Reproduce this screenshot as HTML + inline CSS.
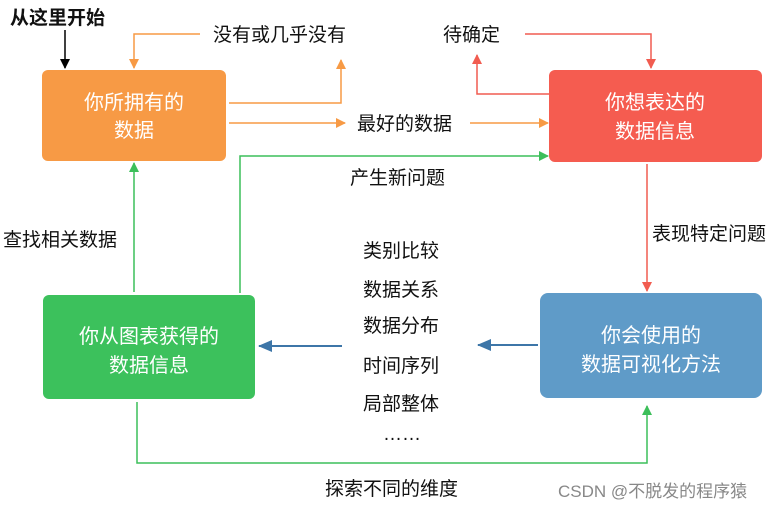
<!DOCTYPE html>
<html><head><meta charset="utf-8"><style>
body{margin:0;width:784px;height:509px;background:#fff;overflow:hidden;font-family:"Liberation Sans","Noto Sans CJK SC",sans-serif}
svg text{font-family:"Liberation Sans","Noto Sans CJK SC",sans-serif}
</style></head><body>
<svg width="784" height="509" viewBox="0 0 784 509" xmlns="http://www.w3.org/2000/svg">
<defs>
<marker id="ao" markerWidth="10" markerHeight="10" refX="9" refY="5" orient="auto" markerUnits="userSpaceOnUse"><path d="M0,0 L10,5 L0,10z" fill="#f79a45"/></marker>
<marker id="ar" markerWidth="10" markerHeight="10" refX="9" refY="5" orient="auto" markerUnits="userSpaceOnUse"><path d="M0,0 L10,5 L0,10z" fill="#f15c50"/></marker>
<marker id="ag" markerWidth="10" markerHeight="10" refX="9" refY="5" orient="auto" markerUnits="userSpaceOnUse"><path d="M0,0 L10,5 L0,10z" fill="#3cbf5a"/></marker>
<marker id="ab" markerWidth="14" markerHeight="12" refX="13" refY="6" orient="auto" markerUnits="userSpaceOnUse"><path d="M0,0 L14,6 L0,12z" fill="#3d76a8"/></marker>
<marker id="ak" markerWidth="10" markerHeight="12" refX="9" refY="5" orient="auto" markerUnits="userSpaceOnUse"><path d="M0,0 L10,5 L0,10z" fill="#000"/></marker>
</defs>
<g fill="none" stroke-width="1.5">
<path d="M65,30 V68" stroke="#000" marker-end="url(#ak)"/>
<path d="M200,34 H134 V68" stroke="#f79a45" marker-end="url(#ao)"/>
<path d="M229,103 H341 V60" stroke="#f79a45" marker-end="url(#ao)"/>
<path d="M229,123 H345" stroke="#f79a45" marker-end="url(#ao)"/>
<path d="M470,123 H548" stroke="#f79a45" marker-end="url(#ao)"/>
<path d="M549,94 H477 V55" stroke="#f15c50" marker-end="url(#ar)"/>
<path d="M525,34 H651 V68" stroke="#f15c50" marker-end="url(#ar)"/>
<path d="M647,164 V291" stroke="#f15c50" marker-end="url(#ar)"/>
<path d="M240,293 V156 H548" stroke="#3cbf5a" marker-end="url(#ag)"/>
<path d="M134,292 V163" stroke="#3cbf5a" marker-end="url(#ag)"/>
<path d="M137,402 V463 H647 V406" stroke="#3cbf5a" marker-end="url(#ag)"/>
<path d="M538,345 H478" stroke="#3d76a8" stroke-width="2" marker-end="url(#ab)"/>
<path d="M342,346 H259" stroke="#3d76a8" stroke-width="2" marker-end="url(#ab)"/>
</g>
<rect x="42" y="70" width="184" height="91" rx="6" fill="#f79a45"/>
<rect x="549" y="70" width="213" height="92" rx="6" fill="#f55c50"/>
<rect x="43" y="295" width="212" height="104" rx="6" fill="#3cc15c"/>
<rect x="540" y="293" width="222" height="105" rx="8" fill="#5f9bc8"/>
<g fill="#fff" font-size="20" text-anchor="middle">
<text x="134" y="109">你所拥有的</text><text x="134" y="137">数据</text>
<text x="655" y="109">你想表达的</text><text x="655" y="138">数据信息</text>
<text x="149" y="343">你从图表获得的</text><text x="149" y="372">数据信息</text>
<text x="651" y="342">你会使用的</text><text x="651" y="371">数据可视化方法</text>
</g>
<g fill="#111" font-size="19">
<text x="10" y="24" font-weight="bold">从这里开始</text>
<text x="213" y="41">没有或几乎没有</text>
<text x="357" y="130">最好的数据</text>
<text x="443" y="41">待确定</text>
<text x="350" y="184">产生新问题</text>
<text x="3" y="246">查找相关数据</text>
<text x="652" y="240">表现特定问题</text>
<text x="363" y="257">类别比较</text>
<text x="363" y="296">数据关系</text>
<text x="363" y="332">数据分布</text>
<text x="363" y="372">时间序列</text>
<text x="363" y="410">局部整体</text>
<text x="383" y="440">……</text>
<text x="325" y="495">探索不同的维度</text>
</g>
<text x="558" y="497" font-size="17" fill="#888">CSDN @不脱发的程序猿</text>
</svg>
</body></html>
